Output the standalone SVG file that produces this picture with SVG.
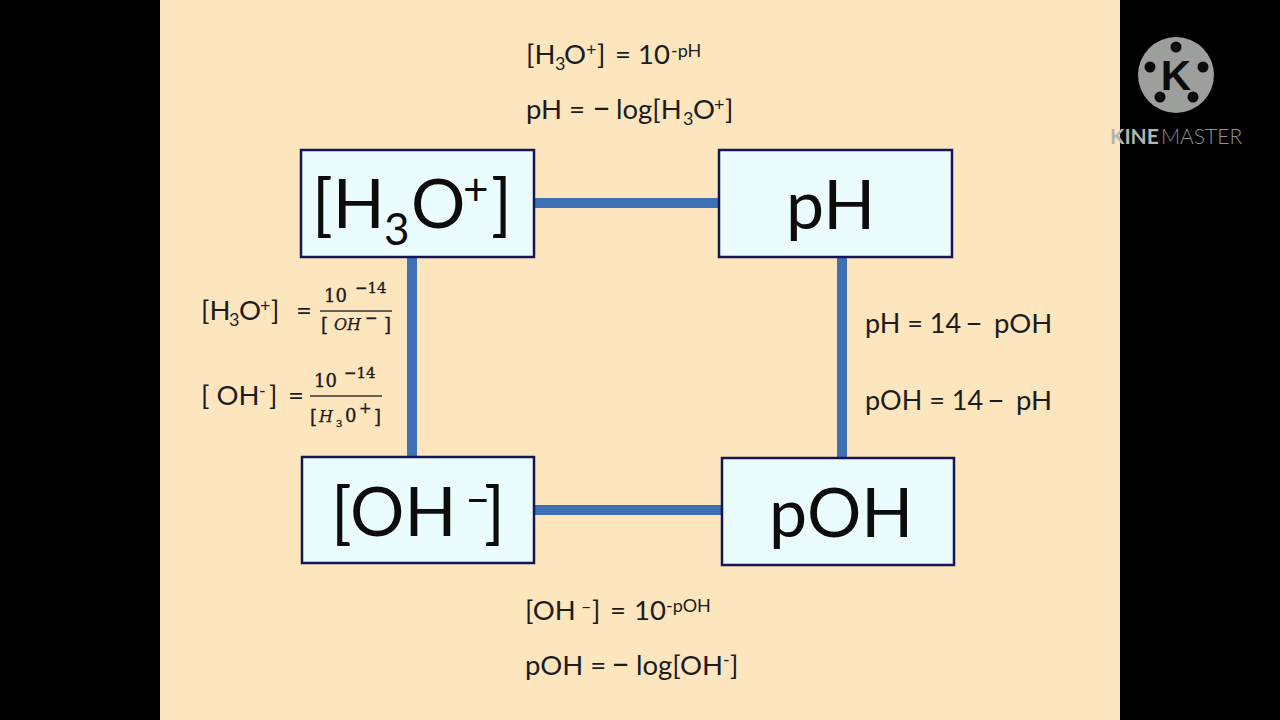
<svg xmlns="http://www.w3.org/2000/svg" width="1280" height="720" viewBox="0 0 1280 720">
<style>
text{font-family:Lato,"Open Sans",sans-serif;fill:#1c1c1c}
.box{fill:#eafcfd;stroke:#14145a;stroke-width:2.5}
.big{font-size:68px;fill:#0c0c0c}
.bs{font-size:44px;fill:#0c0c0c}
.eq{font-size:27.5px}
.sup{font-size:18px}
.sub{font-size:18px}
.dash{font-size:27.5px}
.m{font-family:"DejaVu Serif",serif;font-size:18px;stroke:#1c1c1c;stroke-width:.35}
.mi{font-family:"DejaVu Serif",serif;font-size:16px;font-style:italic;stroke:#1c1c1c;stroke-width:.25}
.ms{font-family:"DejaVu Serif",serif;font-size:15px;stroke:#1c1c1c;stroke-width:.35}
.link{stroke:#3f70b5;stroke-width:10;fill:none}
.frac{stroke:#333;stroke-width:1.3}
</style>
<rect width="1280" height="720" fill="#000"/>
<rect x="160" width="960" height="720" fill="#fde5bd"/>
<g id="connectors">
<path class="link" d="M534 203H719"/>
<path class="link" d="M534 510H722"/>
<path class="link" d="M412 257V456"/>
<path class="link" d="M842 257V458"/>
</g>
<g id="node-h3o">
<rect class="box" x="301" y="150" width="233" height="107"/>
<text class="big" x="312" y="228">[H</text>
<text class="bs" x="384" y="245">3</text>
<text class="big" x="411" y="228">O</text>
<text class="bs" x="463" y="205">+</text>
<text class="big" x="491" y="228">]</text>
</g>
<g id="node-ph">
<rect class="box" x="719" y="150" width="233" height="107"/>
<text class="big" x="786" y="229">pH</text>
</g>
<g id="node-oh">
<rect class="box" x="302" y="457" width="232" height="106"/>
<text class="big" x="331" y="536">[OH</text>
<text class="bs" x="465" y="514">–</text>
<text class="big" x="484" y="536">]</text>
</g>
<g id="node-poh">
<rect class="box" x="722" y="458" width="232" height="107"/>
<text class="big" x="769" y="537">pOH</text>
</g>
<g id="label-top">
<text class="eq" x="526" y="64">[H</text><text class="sub" x="555" y="70">3</text><text class="eq" x="564" y="64">O</text><text class="sup" x="586" y="56">+</text><text class="eq" x="597" y="64">]</text>
<text class="eq" x="615" y="64">=</text><text class="eq" x="638" y="64">10</text><text class="sup" x="671" y="57">-pH</text>
<text class="eq" x="526" y="119">pH =</text><text class="eq" x="592" y="119" style="font-size:33px">–</text><text class="eq" x="616" y="119">log[H</text><text class="sub" x="683" y="125">3</text><text class="eq" x="693" y="119">O</text><text class="sup" x="714" y="111">+</text><text class="eq" x="725" y="119">]</text>
</g>
<g id="label-right">
<text class="eq" x="865" y="333" style="font-size:27px">pH = 14</text><text class="eq" x="965" y="333" style="font-size:31px">–</text><text class="eq" x="994" y="333">pOH</text>
<text class="eq" x="865" y="410" style="font-size:27px">pOH = 14</text><text class="eq" x="987" y="410" style="font-size:31px">–</text><text class="eq" x="1016" y="410">pH</text>
</g>
<g id="label-bottom">
<text class="eq" x="525" y="620">[OH</text><text class="sup" x="581" y="613">–</text><text class="eq" x="592" y="620">]</text>
<text class="eq" x="610" y="620">=</text><text class="eq" x="634" y="620">10</text><text class="sup" x="666" y="612">-pOH</text>
<text class="eq" x="525" y="675">pOH =</text><text class="eq" x="611" y="675" style="font-size:33px">–</text><text class="eq" x="636" y="675">log[OH</text><text class="sup" x="723" y="666">-</text><text class="eq" x="730" y="675">]</text>
</g>
<g id="label-left">
<text class="eq" x="201" y="320">[H</text><text class="sub" x="229" y="326">3</text><text class="eq" x="239" y="320">O</text><text class="sup" x="260" y="312">+</text><text class="eq" x="271" y="320">]</text>
<text class="eq" x="296" y="320">=</text>
<text class="m" x="324" y="302">10</text><text class="ms" x="355" y="293">−14</text>
<line class="frac" x1="320" y1="311" x2="392" y2="311"/>
<text class="m" x="321" y="331">[</text><text class="mi" x="334" y="330">OH</text><text class="ms" x="365" y="323">−</text><text class="m" x="384" y="331">]</text>
<text class="eq" x="201" y="405">[ OH</text><text class="sup" x="259" y="397">-</text><text class="eq" x="269" y="405">]</text>
<text class="eq" x="288" y="405">=</text>
<text class="m" x="314" y="387">10</text><text class="ms" x="344" y="378">−14</text>
<line class="frac" x1="310" y1="396" x2="382" y2="396"/>
<text class="m" x="310" y="423">[</text><text class="mi" x="319" y="422">H</text><text class="ms" x="336" y="427" style="font-size:10px">3</text><text class="m" x="345" y="422">0</text><text class="ms" x="359" y="413">+</text><text class="m" x="374" y="423">]</text>
</g>
<g id="watermark">
<circle cx="1176" cy="75" r="38" fill="#9d9f9c"/>
<g fill="#0a0a0a"><circle cx="1176" cy="47" r="5.5"/><circle cx="1150" cy="67" r="5.5"/><circle cx="1203" cy="67" r="5.5"/><circle cx="1160" cy="97" r="5.5"/><circle cx="1193" cy="97" r="5.5"/></g>
<text x="1176" y="90" text-anchor="middle" style="font-family:'Liberation Sans',sans-serif;font-weight:bold;font-size:42px;fill:#0a0a0a">K</text>
<text x="1110" y="144" style="font-size:21px;font-weight:bold;fill:#b5b5ae">KINE</text>
<text x="1161" y="144" style="font-size:21px;font-weight:300;fill:#90928e">MASTER</text>
</g>
</svg>
